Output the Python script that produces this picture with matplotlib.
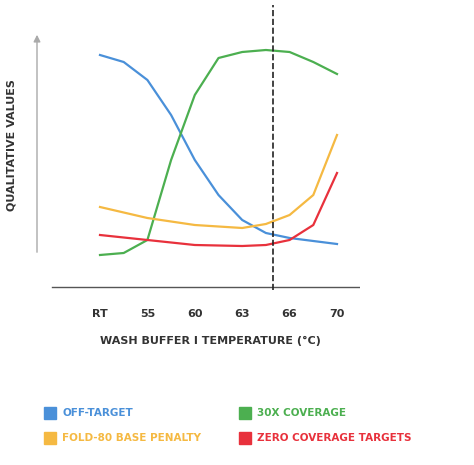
import matplotlib
matplotlib.use("Agg")
import matplotlib.pyplot as plt

categories = ["RT", "55", "60", "63", "66", "70"]
xs = [0, 0.5, 1, 1.5, 2, 2.5, 3, 3.5, 4, 4.5, 5]
off_target = [235, 228, 210, 175, 130, 95, 70, 57, 52, 49, 46]
cov30 = [35, 37, 50, 130, 195, 232, 238, 240, 238, 228, 216]
xo = [0, 1, 2, 3, 3.5, 4, 4.5, 5]
fold80 = [83, 72, 65, 62, 66, 75, 95, 155]
zero_cov = [55, 50, 45, 44, 45, 50, 65, 117]
dashed_x = 3.65

blue, green, orange, red = "#4a90d9", "#4caf50", "#f5b942", "#e8313c"

fig = plt.figure(figsize=(4.74, 4.65), dpi=100)
W, H = 474, 465
x0, x1, y0, y1 = 37, 360, 30, 290
ax = fig.add_axes([x0 / W, 1 - y1 / H, (x1 - x0) / W, (y1 - y0) / H])
ax.set_xlim(-63 / 47.4, (360 - 100) / 47.4)
ax.set_ylim(0, 260)
for s in ax.spines.values():
    s.set_visible(False)
ax.set_yticks([])
ax.set_xticks(range(len(categories)))
ax.set_xticklabels(categories, fontsize=8, fontweight="bold", color="#333333")
ax.tick_params(axis="x", length=0, pad=14)
ax.plot([-48 / 47.4, (360 - 100) / 47.4], [3, 3], color="#555555", lw=1)
ax.annotate("", xy=(-63 / 47.4, 258), xytext=(-63 / 47.4, 35),
            arrowprops=dict(arrowstyle="-|>", color="#aaaaaa", lw=1), annotation_clip=False)

ax.plot(xs, off_target, color=blue, lw=1.6)
ax.plot(xs, cov30, color=green, lw=1.6)
ax.plot(xo, fold80, color=orange, lw=1.6)
ax.plot(xo, zero_cov, color=red, lw=1.6)
ax.plot([dashed_x, dashed_x], [0, 285], color="#222222", lw=1.2, ls="--", clip_on=False)

fig.text(12 / W, 1 - 145 / H, "QUALITATIVE VALUES", rotation=90, ha="center", va="center",
         fontsize=8, fontweight="bold", color="#333333")
fig.text(210 / W, 1 - 341 / H, "WASH BUFFER I TEMPERATURE (°C)", ha="center", va="center",
         fontsize=8, fontweight="bold", color="#333333")

legend = [(50, 413, blue, "OFF-TARGET"), (245, 413, green, "30X COVERAGE"),
          (50, 438, orange, "FOLD-80 BASE PENALTY"), (245, 438, red, "ZERO COVERAGE TARGETS")]
for lx, ly, c, t in legend:
    fig.patches.append(plt.Rectangle(((lx - 6) / W, 1 - (ly + 6) / H), 12 / W, 12 / H,
                                     transform=fig.transFigure, color=c))
    fig.text((lx + 12) / W, 1 - ly / H, t, ha="left", va="center", fontsize=7.5,
             fontweight="bold", color=c)

fig.savefig("out.png", dpi=100)
